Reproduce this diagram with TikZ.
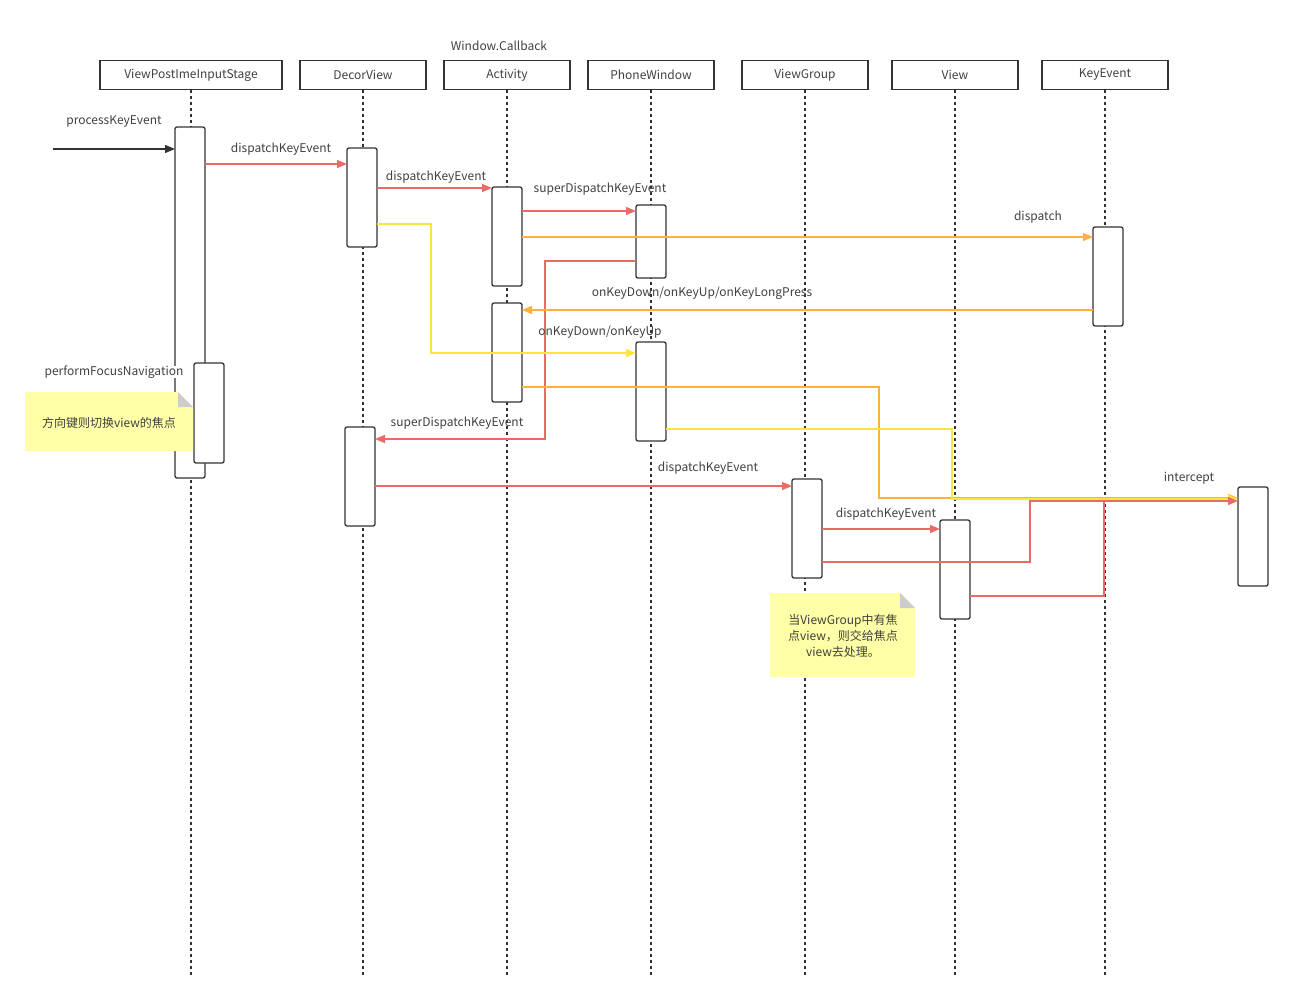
\documentclass[tikz,border=0pt]{standalone}
\usepackage{fontspec}
\setmainfont{Noto Sans CJK SC}
\usetikzlibrary{arrows.meta}
\definecolor{rd}{HTML}{EA6B66}
\definecolor{og}{HTML}{FFB13B}
\definecolor{yl}{HTML}{FFE53B}
\definecolor{nt}{HTML}{FFFFA8}
\begin{document}
\begin{tikzpicture}[x=1pt,y=-1pt,font=\fontsize{12}{14}\selectfont,
  hdr/.style={draw=black!80,line width=1.3pt,minimum width=126pt,minimum height=29pt,inner sep=0,text=black!75},
  life/.style={black!80,line width=1.2pt,dash pattern=on 2.5pt off 3.5pt},
  act/.style={draw=black!80,fill=white,line width=1.3pt,rounded corners=2pt},
  msg/.style={line width=1.3pt,-{Triangle[length=10pt,width=8pt]}},
  lbl/.style={text=black!75,inner sep=0}]
\useasboundingbox (0,0) rectangle (1294,1001);
\foreach \n/\x/\t/\w in {h1/191/ViewPostImeInputStage/182,h2/363/DecorView/126,h3/507/Activity/126,h4/651/PhoneWindow/126,h5/805/ViewGroup/126,h6/955/View/126,h7/1105/KeyEvent/126}{
  \node[hdr,minimum width=\w pt] (\n) at (\x,75) {\t};
  \draw[life] (\n.south) -- (\x,975);
}
\node[lbl] (wc) at (499,46) {Window.Callback};
% activations
\draw[act] (175,127) rectangle (205,478); \coordinate (a1) at (175,149);
\draw[act] (194,363) rectangle (224,463);
\draw[act] (347,148) rectangle (377,247);
\draw[act] (345,427) rectangle (375,526);
\draw[act] (492,187) rectangle (522,286);
\draw[act] (492,303) rectangle (522,402);
\draw[act] (636,205) rectangle (666,278);
\draw[act] (636,342) rectangle (666,441);
\draw[act] (1093,227) rectangle (1123,326);
\draw[act] (792,479) rectangle (822,578);
\draw[act] (940,520) rectangle (970,619);
\draw[act] (1238,487) rectangle (1268,586);
% messages
\coordinate (s0) at (53,149);
\draw[msg,black!80] (s0) -- (a1);
\node[lbl] (l0) at (114,122) {processKeyEvent};
\draw[msg,rd] (205,164) -- (347,164); \node[lbl] (l1) at (281,149) {dispatchKeyEvent};
\draw[msg,rd] (377,188) -- (492,188); \node[lbl] (l2) at (436,177) {dispatchKeyEvent};
\draw[msg,rd] (522,211) -- (636,211); \node[lbl] (l3) at (600,189) {superDispatchKeyEvent};
\draw[msg,og] (522,237) -- (1093,237); \node[lbl] (l4) at (1038,217) {dispatch};
\draw[msg,rd] (636,261) -- (545,261) -- (545,439) -- (375,439); \node[lbl] (l5) at (457,423) {superDispatchKeyEvent};
\draw[msg,og] (1093,310) -- (522,310); \node[lbl] (l6) at (702,293) {onKeyDown/onKeyUp/onKeyLongPress};
\draw[msg,yl] (377,224) -- (431,224) -- (431,353) -- (636,353); \node[lbl] (l7) at (600,332) {onKeyDown/onKeyUp};
\draw[msg,og] (522,387) -- (879,387) -- (879,498) -- (1238,498);
\draw[msg,yl] (666,429) -- (952,429) -- (952,499) -- (1238,499);
\draw[msg,rd] (375,486) -- (792,486); \node[lbl] (l8) at (708,468) {dispatchKeyEvent};
\draw[msg,rd] (822,529) -- (940,529); \node[lbl] (l9) at (886,514) {dispatchKeyEvent};
\draw[msg,rd] (822,562) -- (1030,562) -- (1030,501) -- (1238,501);
\draw[rd,line width=1.3pt] (970,596) -- (1104,596) -- (1104,501);
\node[lbl] (l10) at (1189,478) {intercept};
\node[lbl,fill=white] (l11) at (114,372) {performFocusNavigation};
% notes
\fill[nt] (25,392) -- (178,392) -- (193,407) -- (193,451) -- (25,451) -- cycle;
\fill[black!20] (178,392) -- (193,407) -- (178,407) -- cycle;
\node[lbl] (n1) at (109,423) {方向键则切换view的焦点};
\fill[nt] (770,593) -- (900,593) -- (915,608) -- (915,677) -- (770,677) -- cycle;
\fill[black!20] (900,593) -- (915,608) -- (900,608) -- cycle;
\node[lbl,align=center,font=\fontsize{12}{16}\selectfont] (n2) at (843,636) {当ViewGroup中有焦\\点view，则交给焦点\\view去处理。};
\end{tikzpicture}
\end{document}
